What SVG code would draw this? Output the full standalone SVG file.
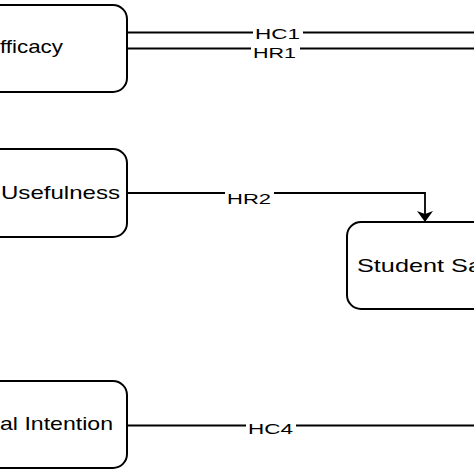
<svg xmlns="http://www.w3.org/2000/svg" width="474" height="474" viewBox="0 0 474 474">
<style>
.box{fill:#fff;stroke:#000;stroke-width:2}
.edge{fill:none;stroke:#000;stroke-width:1.8}
.nt{font-family:"Liberation Sans",Arial,sans-serif;font-size:19px;fill:#000}
.lt{font-family:"Liberation Sans",Arial,sans-serif;font-size:15px;fill:#000}
.lbg{fill:#fff}
</style>
<defs>
<marker id="arr" viewBox="0 0 11 16" refX="11" refY="8" markerWidth="11" markerHeight="16" markerUnits="userSpaceOnUse" orient="auto">
<path d="M0,0 L11,8 L0,16 L3,8 Z" fill="#000"/>
</marker>
</defs>
<rect width="474" height="474" fill="#fff"/>
<g id="connectors">
<line class="edge" x1="127" y1="32.5" x2="474" y2="32.5"/>
<line class="edge" x1="127" y1="48.5" x2="474" y2="48.5"/>
<path class="edge" d="M127,193 H425 V222" marker-end="url(#arr)"/>
<line class="edge" x1="127" y1="425.5" x2="474" y2="425.5"/>
<g id="label-HC1"><rect class="lbg" x="253" y="27" width="50" height="11"/><text class="lt" x="255" y="38.5" textLength="45" lengthAdjust="spacingAndGlyphs">HC1</text></g>
<g id="label-HR1"><rect class="lbg" x="251" y="45" width="49" height="13"/><text class="lt" x="253" y="57.5" textLength="43" lengthAdjust="spacingAndGlyphs">HR1</text></g>
<g id="label-HR2"><rect class="lbg" x="225" y="190" width="49" height="14"/><text class="lt" x="227" y="203.5" textLength="44" lengthAdjust="spacingAndGlyphs">HR2</text></g>
<g id="label-HC4"><rect class="lbg" x="246" y="419" width="50" height="15"/><text class="lt" x="248" y="433.5" textLength="45" lengthAdjust="spacingAndGlyphs">HC4</text></g>
</g>
<g id="node-efficacy">
<rect class="box" x="-40" y="5" width="167" height="87" rx="14"/>
<text class="nt" x="0" y="53" textLength="63" lengthAdjust="spacingAndGlyphs">fficacy</text>
</g>
<g id="node-usefulness">
<rect class="box" x="-40" y="149" width="167" height="88" rx="14"/>
<text class="nt" x="1" y="199" textLength="119" lengthAdjust="spacingAndGlyphs">Usefulness</text>
</g>
<g id="node-satisfaction">
<rect class="box" x="347" y="222" width="167" height="87" rx="14"/>
<text class="nt" x="357" y="272" textLength="125" lengthAdjust="spacingAndGlyphs">Student Sa</text>
</g>
<g id="node-intention">
<rect class="box" x="-40" y="381" width="167" height="87" rx="14"/>
<text class="nt" x="0" y="430" textLength="113" lengthAdjust="spacingAndGlyphs">al Intention</text>
</g>
</svg>
